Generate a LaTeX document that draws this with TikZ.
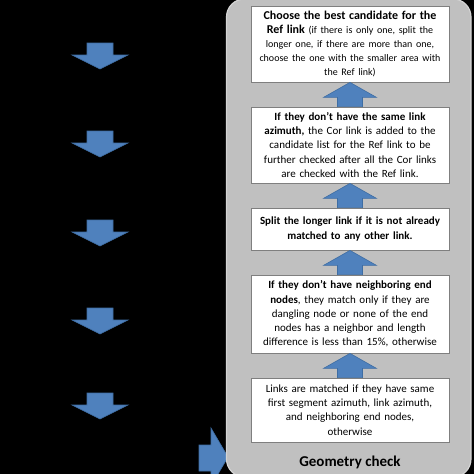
\documentclass[tikz,border=0pt]{standalone}
\usepackage{fontspec}
\setmainfont{Carlito}
\usetikzlibrary{calc}
\definecolor{arrowblue}{HTML}{4F81BD}
\definecolor{arrowedge}{HTML}{3E6DA3}
\definecolor{panelgray}{HTML}{C0C0C0}
\definecolor{panelrim}{HTML}{D4D4D4}
\definecolor{boxedge}{HTML}{7F7F7F}
\newcommand{\upblock}[2]{\draw[blockarrow] ($(#1)+(-12.5,0)$) -- ($(#2)+(-12.5,15)$) -- ($(#2)+(-26.5,15)$) -- (#2) -- ($(#2)+(26.5,15)$) -- ($(#2)+(12.5,15)$) -- ($(#1)+(12.5,0)$) -- cycle;}
\newcommand{\downblock}[1]{\draw[blockarrow] ($(#1)+(-13,0)$) -- ($(#1)+(13,0)$) -- ($(#1)+(13,12)$) -- ($(#1)+(28,12)$) -- ($(#1)+(0,26)$) -- ($(#1)+(-28,12)$) -- ($(#1)+(-13,12)$) -- cycle;}
\begin{document}
\begin{tikzpicture}[x=1pt,y=-1pt,
  blockarrow/.style={fill=arrowblue,draw=arrowedge,line width=0.6pt,line join=miter},
  stepbox/.style={draw=boxedge,fill=white,line width=0.8pt,minimum width=198pt,
    text width=194pt,align=center,inner sep=0pt,font=\fontsize{11}{14.2}\selectfont},
]
\useasboundingbox (0,0) rectangle (474,474);
\fill[black] (0,0) rectangle (474,474);
% left down arrows
\coordinate (d1) at (100,43);
\coordinate (d2) at (100,131);
\coordinate (d3) at (100,220);
\coordinate (d4) at (100,308);
\coordinate (d5) at (100,393);
\downblock{d1}\downblock{d2}\downblock{d3}\downblock{d4}\downblock{d5}
% right arrow at bottom (partly hidden)
\draw[blockarrow] (199,445) -- (211,445) -- (211,428) -- (228,457) -- (211,486) -- (211,471) -- (199,471) -- cycle;
% panel
\draw[fill=panelgray,draw=panelrim,line width=1.2pt,rounded corners=18pt] (226.5,-1) rectangle (471,477);
% boxes
\node[stepbox,minimum height=76pt] (b1) at (350,44)
 {{\fontsize{12}{13.8}\selectfont\bfseries Choose the best candidate for the\\ Ref link}
  {\fontsize{10}{13.8}\selectfont (if there is only one, split the\\ longer one, if there are more than one,\\ choose the one with the smaller area with\\ the Ref link)}\par};
\node[stepbox,minimum height=76pt] (b2) at (350,145)
 {\textbf{If they don’t have the same link\\ azimuth,} the Cor link is added to the\\ candidate list for the Ref link to be\\ further checked after all the Cor links\\ are checked with the Ref link.};
\node[stepbox,minimum height=42pt] (b3) at (350,229)
 {\textbf{Split the longer link if it is not already\\ matched to any other link.}};
\node[stepbox,minimum height=78pt] (b4) at (350,314)
 {\textbf{If they don’t have neighboring end\\ nodes}, they match only if they are\\ dangling node or none of the end\\ nodes has a neighbor and length\\ difference is less than 15\%, otherwise};
\node[stepbox,minimum height=64pt] (b5) at (350,410)
 {Links are matched if they have same\\ first segment azimuth, link azimuth,\\ and neighboring end nodes,\\ otherwise};
\node[font=\fontsize{15}{18}\selectfont\bfseries,inner sep=0pt] (gc) at (350,462) {Geometry check};
% up arrows
\upblock{b2.north}{b1.south}
\upblock{b3.north}{b2.south}
\upblock{b4.north}{b3.south}
\upblock{b5.north}{b4.south}
\end{tikzpicture}
\end{document}
